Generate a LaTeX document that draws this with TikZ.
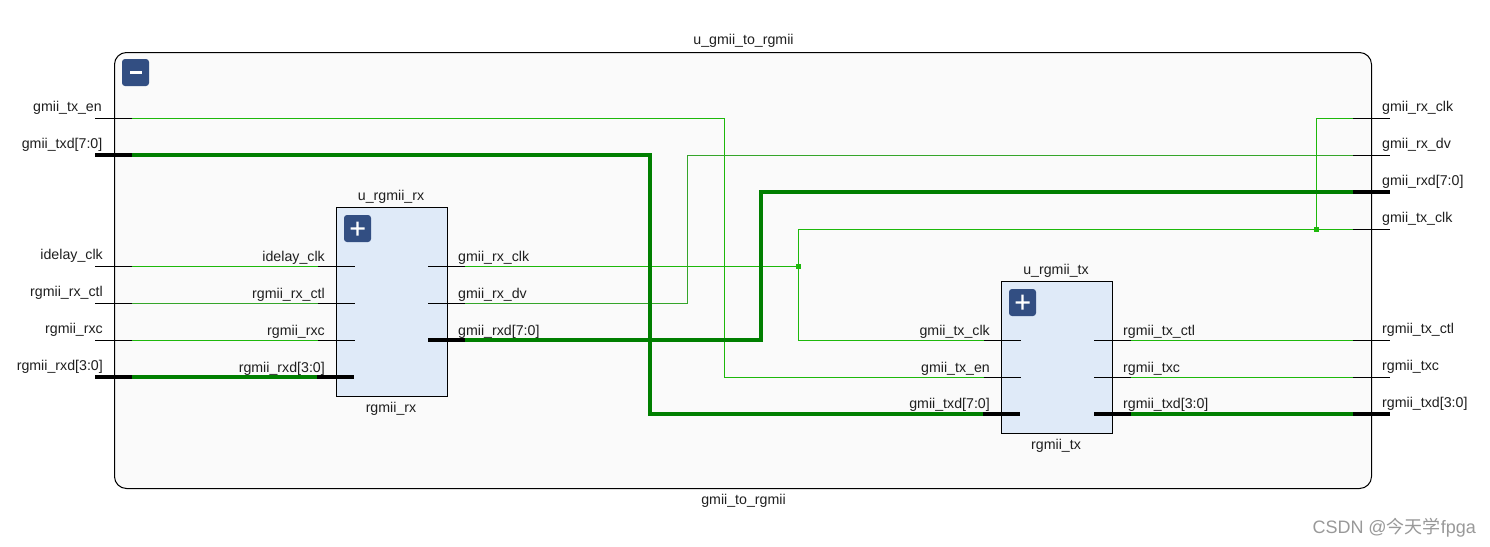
\documentclass[tikz,border=0pt]{standalone}
\usepackage{fontspec}
\setmainfont{Liberation Sans}
\newfontfamily\cjkwm{Noto Sans CJK SC}
\definecolor{wthin}{HTML}{1DB80B}
\definecolor{wdull}{HTML}{35A52A}
\definecolor{wbus}{HTML}{007F00}
\definecolor{blockfill}{HTML}{DFEAF8}
\definecolor{outerfill}{HTML}{FAFAFA}
\definecolor{btnblue}{HTML}{324E82}
\tikzset{
 x=1pt,y=-1pt,
 lbl/.style={font=\fontsize{14.2}{16}\selectfont,text=black!88,inner sep=0pt},
 lr/.style={lbl,anchor=base east},
 ll/.style={lbl,anchor=base west},
 lc/.style={lbl,anchor=base},
 stub/.style={draw=black,line width=1pt},
 bstub/.style={draw=black,line width=4pt},
 wire/.style={draw=wthin,line width=1pt},
 dullwire/.style={draw=wdull,line width=1pt},
 bus/.style={draw=wbus,line width=4pt},
 outer/.style={draw=black,line width=1pt,fill=outerfill,rounded corners=12pt},
 block/.style={draw=black,line width=1pt,fill=blockfill},
 btn/.style={fill=btnblue,rounded corners=3pt},
 tee/.style={fill=wthin,minimum size=5pt,inner sep=0pt,draw=none,shape=rectangle},
}
\newcommand{\portc}[3]{%
 \coordinate (#1a) at (#2,#3); \coordinate (#1b) at (#2+37,#3);}
\begin{document}
\begin{tikzpicture}
\useasboundingbox (0,0) rectangle (1490,546);
\fill[white] (0,0) rectangle (1490,546);
\draw[outer] (114.5,52.5) rectangle (1371.5,488.5);
\node[btn,minimum width=27pt,minimum height=27pt] (outerbtn) at (135.5,72.5) {};
\fill[white] (129.5,71.3) rectangle (141.5,73.7);
\draw[block] (336.5,207.5) rectangle (447.5,396.5);
\draw[block] (1001.5,281.5) rectangle (1112.5,433.5);
\node[btn,minimum width=27pt,minimum height=27pt] (rxbtn) at (357.5,228.5) {};
\fill[white] (350.5,227.3) rectangle (364.5,229.7) (356.3,221.5) rectangle (358.7,235.5);
\node[btn,minimum width=27pt,minimum height=27pt] (txbtn) at (1022.5,302.5) {};
\fill[white] (1015.5,301.3) rectangle (1029.5,303.7) (1021.3,294.5) rectangle (1023.7,309.5);
% port stubs
\portc{pa}{95}{118.5}
\portc{pb}{95}{155}
\portc{pc}{95}{266.5}
\portc{pd}{95}{303.5}
\portc{pe}{95}{340.5}
\portc{pf}{95}{377}
\portc{ra}{318}{266.5}
\portc{rb}{318}{303.5}
\portc{rc}{318}{340.5}
\portc{rd}{317}{377}
\portc{oa}{428}{266.5}
\portc{ob}{428}{303.5}
\portc{oc}{428}{340}
\portc{ta}{984}{340.5}
\portc{tb}{984}{377.5}
\portc{tc}{983}{413.5}
\portc{ua}{1094}{340.5}
\portc{ub}{1094}{377.5}
\portc{uc}{1094}{413.5}
\portc{qa}{1353}{118.5}
\portc{qb}{1353}{155.5}
\portc{qc}{1353}{192}
\portc{qd}{1353}{229.5}
\portc{qe}{1353}{340.5}
\portc{qf}{1353}{377.5}
\portc{qg}{1353}{413.5}
\node[tee] (t1) at (798.5,266.5) {};
\node[tee] (t2) at (1316.5,229.5) {};
\coordinate (c1) at (724.5,118.5);
\coordinate (c2) at (724.5,377.5);
\coordinate (c3) at (650,155);
\coordinate (c4) at (650,413.5);
\coordinate (c5) at (687.5,303.5);
\coordinate (c6) at (687.5,155.5);
\coordinate (c7) at (761,340);
\coordinate (c8) at (761,192);
\coordinate (c9) at (798.5,229.5);
\coordinate (c10) at (798.5,340.5);
\coordinate (c11) at (1316.5,118.5);
% wires
\draw[wire] (pab) -- (c1) -- (c2) -- (tba);
\draw[wire] (pcb) -- (raa);
\draw[dullwire] (pdb) -- (rba);
\draw[wire] (peb) -- (rca);
\draw[wire] (oab) -- (t1.center);
\draw[dullwire] (obb) -- (c5) -- (c6) -- (qba);
\draw[wire] (t1.center) -- (c10) -- (taa);
\draw[wire] (t1.center) -- (c9) -- (qda);
\draw[wire] (t2.center) -- (c11) -- (qaa);
\draw[wire] (uab) -- (qea);
\draw[wire] (ubb) -- (qfa);
\draw[bus] (pbb) -- (c3) -- (c4) -- (tca);
\draw[bus] (pfb) -- (rda);
\draw[bus] (ocb) -- (c7) -- (c8) -- (qca);
\draw[bus] (ucb) -- (qga);
\foreach \n in {pa,pc,pd,pe,ra,rb,rc,oa,ob,ta,tb,ua,ub,qa,qb,qd,qe,qf}
  \draw[stub] (\n a) -- (\n b);
\foreach \n in {pb,pf,rd,oc,tc,uc,qc,qg}
  \draw[bstub] (\n a) -- (\n b);
\node[tee] at (t1) {};
\node[tee] at (t2) {};
% labels
\node[lc] (l1) at (743.5,44) {u\_gmii\_to\_rgmii};
\node[lc] (l2) at (743.5,504) {gmii\_to\_rgmii};
\node[lc] (l3) at (391,200) {u\_rgmii\_rx};
\node[lc] (l4) at (391,412) {rgmii\_rx};
\node[lc] (l5) at (1056,274) {u\_rgmii\_tx};
\node[lc] (l6) at (1056,449) {rgmii\_tx};
\node[lr] at (102,111) {gmii\_tx\_en};
\node[lr] at (102.5,148) {gmii\_txd[7:0]};
\node[lr] at (103,259) {idelay\_clk};
\node[lr] at (103,296) {rgmii\_rx\_ctl};
\node[lr] at (103,333) {rgmii\_rxc};
\node[lr] at (103,370) {rgmii\_rxd[3:0]};
\node[lr] at (325,261) {idelay\_clk};
\node[lr] at (325,298) {rgmii\_rx\_ctl};
\node[lr] at (325,335) {rgmii\_rxc};
\node[lr] at (325,372) {rgmii\_rxd[3:0]};
\node[ll] at (458,261) {gmii\_rx\_clk};
\node[ll] at (458,298) {gmii\_rx\_dv};
\node[ll] at (458,335) {gmii\_rxd[7:0]};
\node[lr] at (990,335) {gmii\_tx\_clk};
\node[lr] at (990,372) {gmii\_tx\_en};
\node[lr] at (990,408) {gmii\_txd[7:0]};
\node[ll] at (1123,335) {rgmii\_tx\_ctl};
\node[ll] at (1123,372) {rgmii\_txc};
\node[ll] at (1123,408) {rgmii\_txd[3:0]};
\node[ll] at (1382,111) {gmii\_rx\_clk};
\node[ll] at (1382,148) {gmii\_rx\_dv};
\node[ll] at (1382,185) {gmii\_rxd[7:0]};
\node[ll] at (1382,222) {gmii\_tx\_clk};
\node[ll] at (1382,333) {rgmii\_tx\_ctl};
\node[ll] at (1382,370) {rgmii\_txc};
\node[ll] at (1382,407) {rgmii\_txd[3:0]};
\node[anchor=base east,inner sep=0pt,text=black!40,font=\fontsize{18}{20}\selectfont] (wm) at (1476,533) {CSDN @{\cjkwm 今天学}fpga};
\end{tikzpicture}
\end{document}
